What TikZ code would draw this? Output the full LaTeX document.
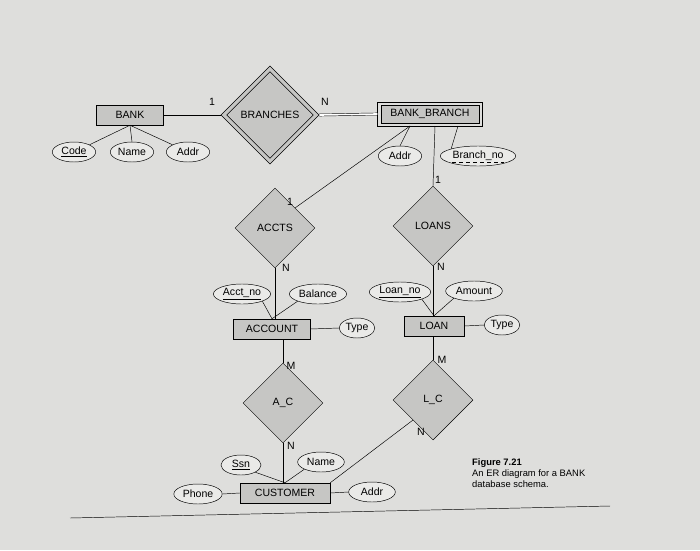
\documentclass[tikz,border=0pt]{standalone}
\usepackage{fontspec}
\setmainfont{Liberation Sans}
\usetikzlibrary{shapes.geometric}
\definecolor{bg}{HTML}{DEDEDC}
\definecolor{boxc}{HTML}{C6C6C4}
\definecolor{ellc}{HTML}{EAEAE8}
\begin{document}
\begin{tikzpicture}[x=0.03cm,y=-0.03cm,font=\fontsize{9}{10}\selectfont,
 ent/.style={draw,fill=boxc,minimum height=0.6cm,inner sep=2pt},
 rel/.style={draw,fill=boxc,diamond,aspect=1,inner sep=0pt,minimum size=2.4cm},
 att/.style={draw,fill=ellc,ellipse,inner sep=1pt,minimum height=0.6cm,minimum width=1.3cm},
 lab/.style={inner sep=1pt}]
\fill[bg] (0,0) rectangle (700,550);
\useasboundingbox (0,0) rectangle (700,550);
% top
\node[ent,minimum width=2cm] (bank) at (130,115) {BANK};
\node[rel,minimum size=2.95cm] (branchesout) at (270,115) {};
\node[rel,minimum size=2.6cm] (branches) at (270,115) {BRANCHES};
\node[ent,minimum width=3.15cm,minimum height=0.72cm,fill=none] (bbout) at (430,114) {};
\node[ent,minimum width=2.95cm,minimum height=0.55cm] (bb) at (430,114) {BANK\_BRANCH};
\draw (bank.east) -- (branchesout.west);
\draw[double,double distance=1.4pt] (branchesout.east) -- (bbout.west);
\node[lab] (l1) at (212,102) {1};
\node[lab] (l2) at (325,102) {N};
\node[att] (code) at (74,152) {\underline{Code}};
\node[att] (bname) at (132,152) {Name};
\node[att] (baddr) at (188,152) {Addr};
\draw (bank.south) -- (code.north east);
\draw (bank.south) -- (bname.north);
\draw (bank.south) -- (baddr.north west);
\node[att] (bbaddr) at (400,156) {Addr};
\node[att,minimum width=2.05cm] (bno) at (478,156) {Branch\_no};
\draw[dashed] ([xshift=-0.78cm,yshift=-0.2cm]bno.center) -- ([xshift=0.78cm,yshift=-0.2cm]bno.center);
\coordinate (bbs) at (410,126);
\coordinate (bbe) at (458,126);
\coordinate (bbw) at (410,126);
\coordinate (bbm) at (435,126);
\draw (bbs) -- (bbaddr.north);
\draw (bbe) -- (bno.north west);
% accts/loans
\node[rel] (accts) at (275,228) {ACCTS};
\node[rel] (loans) at (433,226) {LOANS};
\draw (bbw) -- (accts.north east);
\draw (bbm) -- (loans.north);
\node[lab] at (290,202) {1};
\node[lab] at (438,180) {1};
\node[ent,minimum width=2.3cm] (account) at (272,329) {ACCOUNT};
\node[ent,minimum width=1.8cm] (loan) at (434,326) {LOAN};
\draw (accts.south) -- (accts.south|-account.north);
\draw (loans.south) -- (loans.south|-loan.north);
\node[lab] at (286,268) {N};
\node[lab] at (441,267) {N};
\node[att,minimum width=1.4cm] (acctno) at (242,294) {\underline{Acct\_no}};
\node[att,minimum width=1.6cm] (bal) at (318,294) {Balance};
\node[att,minimum width=1.05cm] (atype) at (357,328) {Type};
\draw (acctno.south east) -- (account.north);
\draw (bal.south west) -- (account.north);
\draw (account.east) -- (atype.west);
\node[att,minimum width=1.45cm] (loanno) at (400,292) {\underline{Loan\_no}};
\node[att,minimum width=1.7cm] (amount) at (474,291) {Amount};
\node[att,minimum width=1.05cm] (ltype) at (502,325) {Type};
\draw (loanno.south east) -- (loan.north);
\draw (amount.south west) -- (loan.north);
\draw (loan.east) -- (ltype.west);
% A_C, L_C
\node[rel] (ac) at (283,403) {A\_C};
\node[rel] (lc) at (433,400) {L\_C};
\node[ent,minimum width=2.7cm] (cust) at (285,493) {CUSTOMER};
\draw (ac.north) -- (ac.north|-account.south);
\draw (ac.south) -- (ac.south|-cust.north);
\draw (lc.north) -- (lc.north|-loan.south);
\draw (lc.south west) -- (cust.north east);
\node[lab] at (291,366) {M};
\node[lab] at (291,446) {N};
\node[lab] at (442,360) {M};
\node[lab] at (421,432) {N};
\node[att,minimum width=1.2cm] (ssn) at (241,465) {\underline{Ssn}};
\node[att,minimum width=1.4cm] (cname) at (321,462) {Name};
\node[att,minimum width=1.45cm] (phone) at (198,494) {Phone};
\node[att,minimum width=1.4cm] (caddr) at (372,492) {Addr};
\draw (ssn.south east) -- (cust.north);
\draw (cname.south west) -- (cust.north);
\draw (phone.east) -- (cust.west);
\draw (cust.east) -- (caddr.west);
% caption
\node[anchor=north west,align=left,inner sep=0pt,font=\fontsize{8}{9.5}\selectfont] (cap) at (472,458) {\textbf{Figure 7.21}\\An ER diagram for a BANK\\database schema.};
\draw (70,518) -- (610,506);
\end{tikzpicture}
\end{document}
